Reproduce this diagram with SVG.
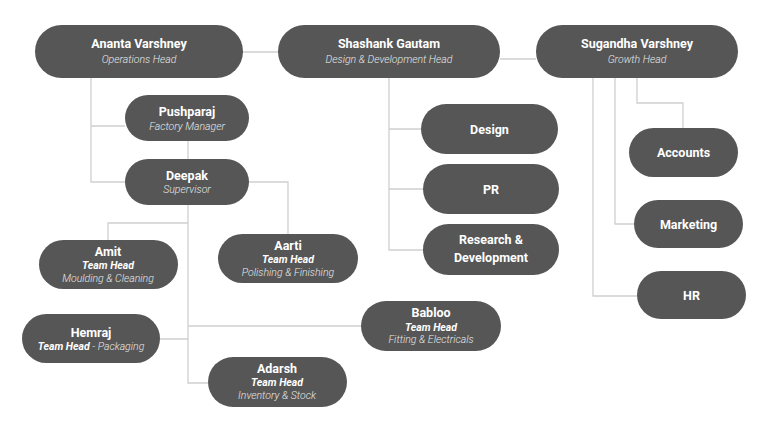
<svg xmlns="http://www.w3.org/2000/svg" width="768" height="433" viewBox="0 0 768 433">
<style>
.n{fill:#565656;}
.t{font-family:Roboto,"Liberation Sans",sans-serif;font-weight:bold;font-size:12.5px;fill:#ffffff;text-anchor:middle;}
.s{font-family:Roboto,"Liberation Sans",sans-serif;font-style:italic;font-weight:300;font-size:10.5px;fill:#e8e8e8;text-anchor:middle;}
.b{font-family:Roboto,"Liberation Sans",sans-serif;font-style:italic;font-weight:bold;font-size:10.5px;fill:#ffffff;text-anchor:middle;}
.c{fill:none;stroke:#cfcfcf;stroke-width:1.3;}
</style>
<rect width="768" height="433" fill="#ffffff"/>
<g id="connectors">
<path class="c" d="M243 52H278"/>
<path class="c" d="M500 59H536"/>
<path class="c" d="M91 78V182H125M91 126H125"/>
<path class="c" d="M188 141V159"/>
<path class="c" d="M249 182H288V234"/>
<path class="c" d="M188 205V383H208M188 223H108V240M160 339H188M188 326H361"/>
<path class="c" d="M389 78V250H423M389 129H421M389 189H423"/>
<path class="c" d="M593 78V296H637M615 78V224H634M637 78V103H683V128"/>
</g>
<g id="ananta"><rect class="n" x="35" y="25" width="208" height="53" rx="26.5"/><text class="t" x="139" y="48">Ananta Varshney</text><text class="s" x="139" y="63">Operations Head</text></g>
<g id="shashank"><rect class="n" x="278" y="25" width="222" height="53" rx="26.5"/><text class="t" x="389" y="48">Shashank Gautam</text><text class="s" x="389" y="63">Design &amp; Development Head</text></g>
<g id="sugandha"><rect class="n" x="536" y="25" width="202" height="53" rx="26.5"/><text class="t" x="637" y="48">Sugandha Varshney</text><text class="s" x="637" y="63">Growth Head</text></g>
<g id="pushparaj"><rect class="n" x="125" y="95" width="124" height="46" rx="23"/><text class="t" x="187" y="116">Pushparaj</text><text class="s" x="187" y="130">Factory Manager</text></g>
<g id="deepak"><rect class="n" x="125" y="159" width="124" height="46" rx="23"/><text class="t" x="187" y="180">Deepak</text><text class="s" x="187" y="193">Supervisor</text></g>
<g id="amit"><rect class="n" x="39" y="240" width="139" height="49" rx="24.5"/><text class="t" x="108" y="256">Amit</text><text class="b" x="108" y="269">Team Head</text><text class="s" x="108" y="282">Moulding &amp; Cleaning</text></g>
<g id="aarti"><rect class="n" x="218" y="234" width="140" height="49" rx="24.5"/><text class="t" x="288" y="250">Aarti</text><text class="b" x="288" y="263">Team Head</text><text class="s" x="288" y="276">Polishing &amp; Finishing</text></g>
<g id="hemraj"><rect class="n" x="22" y="314" width="138" height="49" rx="24.5"/><text class="t" x="91" y="337">Hemraj</text><text class="s" x="91" y="350"><tspan class="b" style="font-style:italic">Team Head</tspan> - Packaging</text></g>
<g id="babloo"><rect class="n" x="361" y="301" width="140" height="50" rx="25"/><text class="t" x="431" y="317">Babloo</text><text class="b" x="431" y="331">Team Head</text><text class="s" x="431" y="343">Fitting &amp; Electricals</text></g>
<g id="adarsh"><rect class="n" x="208" y="357" width="139" height="50" rx="25"/><text class="t" x="277" y="373">Adarsh</text><text class="b" x="277" y="386">Team Head</text><text class="s" x="277" y="399">Inventory &amp; Stock</text></g>
<g id="design"><rect class="n" x="421" y="104" width="137" height="50" rx="25"/><text class="t" x="489.5" y="133.5">Design</text></g>
<g id="pr"><rect class="n" x="423" y="164" width="136" height="50" rx="25"/><text class="t" x="491" y="193.5">PR</text></g>
<g id="rd"><rect class="n" x="423" y="224" width="136" height="51" rx="25.5"/><text class="t" x="491" y="244">Research &amp;</text><text class="t" x="491" y="262">Development</text></g>
<g id="accounts"><rect class="n" x="629" y="128" width="109" height="49" rx="24.5"/><text class="t" x="683.5" y="157">Accounts</text></g>
<g id="marketing"><rect class="n" x="634" y="200" width="109" height="48" rx="24"/><text class="t" x="688.5" y="228.5">Marketing</text></g>
<g id="hr"><rect class="n" x="637" y="271" width="109" height="48" rx="24"/><text class="t" x="691.5" y="299.5">HR</text></g>
</svg>
